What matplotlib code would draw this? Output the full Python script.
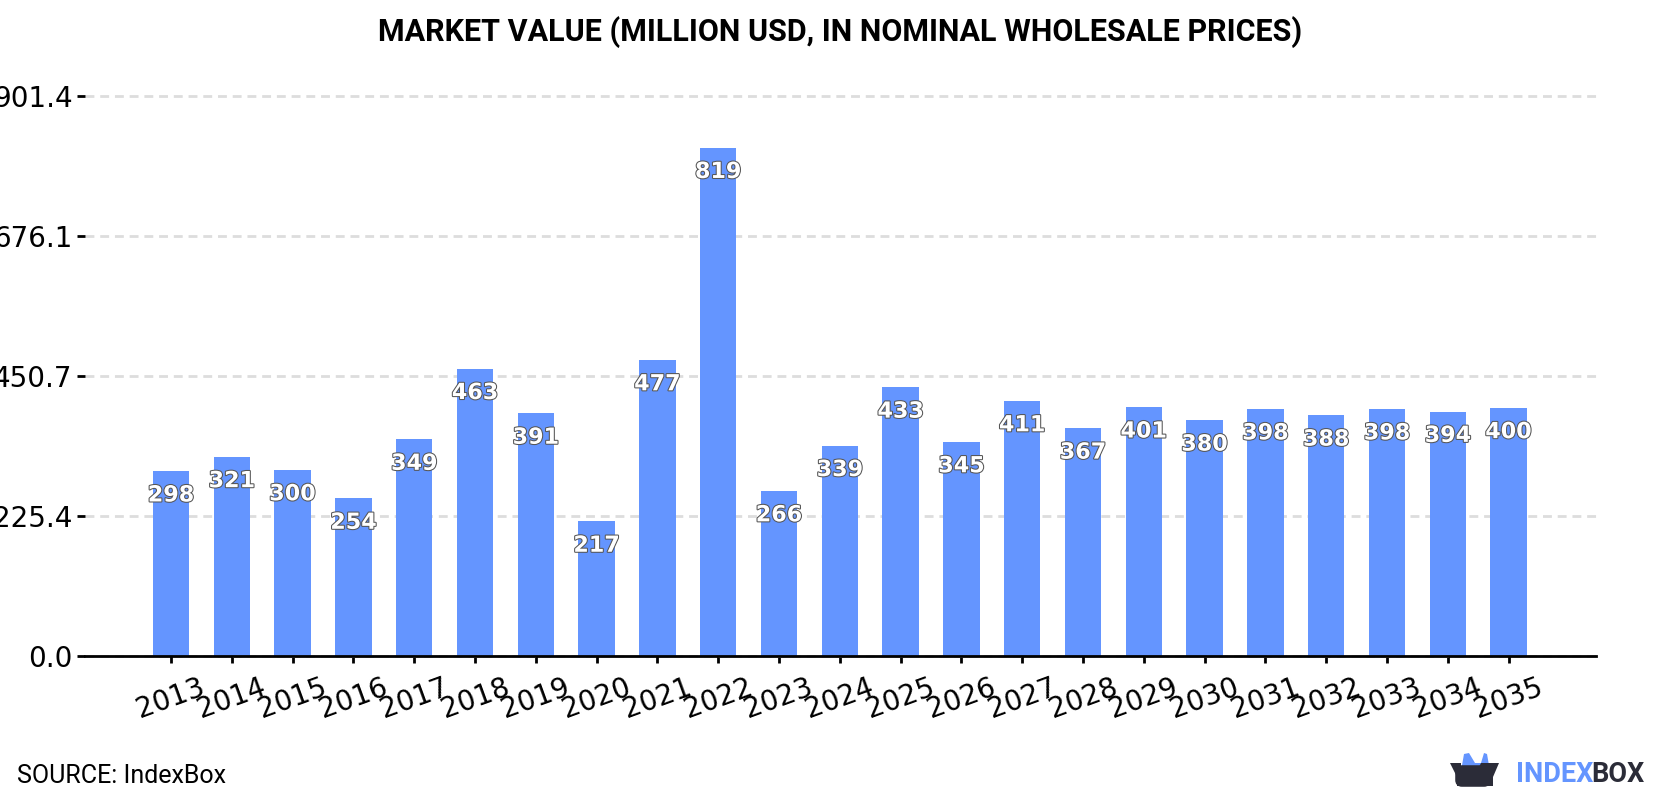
#! /usr/bin/env python3
import matplotlib
matplotlib.use('Agg')
import matplotlib.pyplot as plt
import matplotlib.patheffects as pe
from matplotlib.patches import Polygon, FancyBboxPatch

years = ['2013', '2014', '2015', '2016', '2017', '2018', '2019', '2020', '2021', '2022', '2023', '2024',
         '2025', '2026', '2027', '2028', '2029', '2030', '2031', '2032', '2033', '2034', '2035']
values = [298, 321, 300, 254, 349, 463, 391, 217, 477, 819, 266, 339,
          433, 345, 411, 367, 401, 380, 398, 388, 398, 394, 400]
yticks = [0.0, 225.4, 450.7, 676.1, 901.4]

BLUE = '#6495ff'
DARK = '#2b2c38'
W, H = 1680, 800

fig = plt.figure(figsize=(W / 100, H / 100), dpi=100, facecolor='white')
ax = fig.add_axes([85 / W, 1 - 656.2 / H, (1596.5 - 85) / W, (656.2 - 96.5) / H])

xpos = list(range(len(years)))
ax.bar(xpos, values, width=0.6, color=BLUE, zorder=2)
ax.set_xlim(-1.414, 23.446)
ax.set_ylim(0, 901.4)

ax.set_yticks(yticks)
ax.set_yticklabels(['%.1f' % v for v in yticks], fontsize=20)
ax.set_xticks(xpos)
ax.set_xticklabels(years, fontsize=20, rotation=20)
ax.tick_params(axis='y', length=6, width=2, pad=3)
ax.tick_params(axis='x', length=5, width=2, pad=7)
ax.grid(axis='y', color='#dddddd', linestyle=(0, (3.2, 2.1)), linewidth=2, zorder=1)
# the top gridline sits on the axes edge, keep it at full width
for line in ax.get_ygridlines():
    line.set_clip_on(False)

for side in ['top', 'right', 'left']:
    ax.spines[side].set_visible(False)
ax.spines['bottom'].set_linewidth(2)

# white value labels with a grey outline, hanging inside the bar tops
for x, v in zip(xpos, values):
    ax.annotate(str(v), (x, v), xytext=(0, -17.5), textcoords='offset points', ha='center', va='center',
                fontsize=16, fontweight='bold', color='white', zorder=4, annotation_clip=False,
                path_effects=[pe.withStroke(linewidth=1.5, foreground='#555555')])

fig.text(840 / W, 1 - 32 / H, 'MARKET VALUE (MILLION USD, IN NOMINAL WHOLESALE PRICES)', family='Roboto',
         fontweight='bold', fontsize=22, ha='center', va='center', color='black')
fig.text(17 / W, 1 - 776 / H, 'SOURCE: IndexBox', family='Roboto', fontsize=18, ha='left', va='center', color='black')

# logo, drawn on an overlay in pixel coordinates
logo = fig.add_axes([0, 0, 1, 1], facecolor='none')
logo.set_xlim(0, W)
logo.set_ylim(H, 0)
logo.axis('off')
logo.add_patch(Polygon([(1461, 771), (1464, 754), (1469, 753), (1475, 763), (1481, 763), (1484, 753),
                        (1487, 754), (1490, 771)], closed=True, color=BLUE, lw=0))
logo.add_patch(FancyBboxPatch((1458, 768), 30, 16, boxstyle='round,pad=0,rounding_size=4', color=DARK, lw=4))
logo.add_patch(Polygon([(1450, 763), (1461, 763), (1461, 771), (1477, 771), (1481, 763), (1499, 763),
                        (1493, 777), (1493, 786), (1457, 786), (1457, 777)], closed=True, color=DARK, lw=0))
logo.text(1516, 774, 'INDEX', family='Roboto', fontweight='bold', fontsize=19.5, color=BLUE, ha='left', va='center')
logo.text(1591, 774, 'BOX', family='Roboto', fontweight='bold', fontsize=19.5, color=DARK, ha='left', va='center')

fig.savefig('out.png', dpi=100)
